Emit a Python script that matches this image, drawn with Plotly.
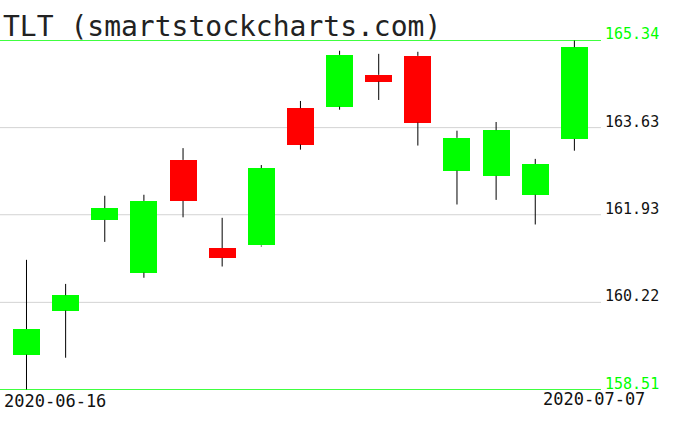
import plotly.graph_objects as go

dates = ["2020-06-16", "2020-06-17", "2020-06-18", "2020-06-19", "2020-06-22",
         "2020-06-23", "2020-06-24", "2020-06-25", "2020-06-26", "2020-06-29",
         "2020-06-30", "2020-07-01", "2020-07-02", "2020-07-06", "2020-07-07"]
opens  = [159.20, 160.06, 161.83, 160.80, 163.00, 161.28, 161.33, 164.01, 164.04, 164.66, 165.03, 162.79, 162.69, 162.32, 163.41]
highs  = [161.05, 160.58, 162.30, 162.32, 163.23, 161.87, 162.90, 164.15, 165.13, 165.07, 165.11, 163.57, 163.74, 163.02, 165.34]
lows   = [158.51, 159.14, 161.40, 160.70, 161.88, 160.92, 161.31, 163.20, 163.98, 164.17, 163.28, 162.13, 162.22, 161.74, 163.18]
closes = [159.70, 160.36, 162.06, 162.20, 162.20, 161.09, 162.84, 163.30, 165.05, 164.53, 163.73, 163.43, 163.58, 162.92, 165.20]
price_ticks = [165.34, 163.63, 161.93, 160.22, 158.51]
title_text = "TLT (smartstockcharts.com)"

UP = "#00FF00"
DOWN = "#FF0000"

idx = list(range(len(dates)))

# wicks (drawn outside the bodies only)
wx, wy = [], []
for i in idx:
    lo_body = min(opens[i], closes[i])
    hi_body = max(opens[i], closes[i])
    wx += [i, i, None, i, i, None]
    wy += [lows[i], lo_body, None, hi_body, highs[i], None]

fig = go.Figure()
fig.add_trace(go.Scatter(x=wx, y=wy, mode="lines",
                         line=dict(color="black", width=1),
                         hoverinfo="skip", showlegend=False))

base = [min(o, c) for o, c in zip(opens, closes)]
height = [max(abs(c - o), 0.02) for o, c in zip(opens, closes)]
colors = [UP if c >= o else DOWN for o, c in zip(opens, closes)]
fig.add_trace(go.Bar(x=idx, y=height, base=base, width=0.69,
                     marker=dict(color=colors, line=dict(width=0)),
                     hoverinfo="skip", showlegend=False))

shapes = []
for k, v in enumerate(price_ticks):
    edge = (k == 0 or k == len(price_ticks) - 1)
    shapes.append(dict(type="line", xref="paper", yref="y", x0=0, x1=1, y0=v, y1=v,
                       line=dict(color=UP if edge else "#D3D3D3", width=1.3 if edge else 1),
                       layer="below" if not edge else "above"))

annotations = []
for k, v in enumerate(price_ticks):
    edge = (k == 0 or k == len(price_ticks) - 1)
    annotations.append(dict(xref="paper", yref="y", x=1, y=v, xanchor="left", yanchor="middle",
                            xshift=2, yshift=6, showarrow=False, text=f"{v:.2f}",
                            font=dict(family="DejaVu Sans Mono", size=15,
                                      color=UP if edge else "#111111")))

annotations.append(dict(xref="paper", yref="paper", x=0, y=1, xanchor="left", yanchor="middle",
                        xshift=1, yshift=14, showarrow=False, text=title_text,
                        font=dict(family="DejaVu Sans Mono", size=28, color="#222222")))
annotations.append(dict(xref="paper", yref="paper", x=0, y=0, xanchor="left", yanchor="middle",
                        xshift=2, yshift=-11, showarrow=False, text=dates[0],
                        font=dict(family="DejaVu Sans Mono", size=17, color="#111111")))
annotations.append(dict(xref="paper", yref="paper", x=645 / 601, y=0, xanchor="right", yanchor="middle",
                        xshift=2, yshift=-9, showarrow=False, text=dates[-1],
                        font=dict(family="DejaVu Sans Mono", size=17, color="#111111")))

fig.update_layout(
    width=676, height=431,
    margin=dict(l=0, r=75, t=40, b=41),
    paper_bgcolor="white", plot_bgcolor="white",
    xaxis=dict(range=[-0.677, 14.68], showgrid=False, zeroline=False,
               showticklabels=False, showline=False, fixedrange=True),
    yaxis=dict(range=[158.51, 165.34], showgrid=False, zeroline=False,
               showticklabels=False, showline=False, fixedrange=True),
    shapes=shapes, annotations=annotations,
    hovermode=False, showlegend=False, bargap=0,
)

fig.write_html("out.html", config={"displayModeBar": False},
               post_script="document.body.style.margin='0px';document.body.style.overflow='hidden';")
